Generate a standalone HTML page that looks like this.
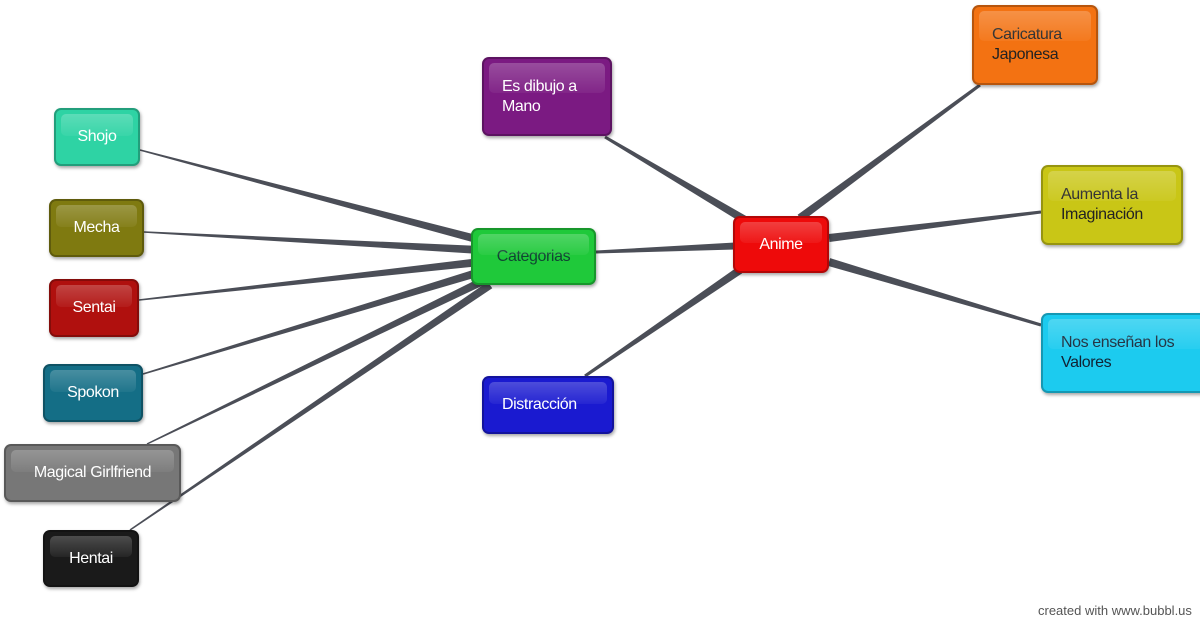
<!DOCTYPE html>
<html><head><meta charset="utf-8"><style>
body{margin:0;width:1200px;height:630px;overflow:hidden;background:#fff;font-family:"Liberation Sans",sans-serif;position:relative}
.n{position:absolute;box-sizing:border-box;border-radius:7px;font-size:16px;letter-spacing:-0.4px;color:#fff;display:flex;align-items:center;padding-left:18px;line-height:20px;box-shadow:1px 2px 3px rgba(0,0,0,.35);border:2px solid rgba(0,0,0,.25)}
.n::before{content:"";position:absolute;left:5px;right:5px;top:4px;height:40%;border-radius:5px;background:linear-gradient(rgba(255,255,255,.22),rgba(255,255,255,.05))}
.c{justify-content:center;padding-left:0}
svg{position:absolute;left:0;top:0}
.foot{position:absolute;left:1038px;top:603px;font-size:13px;color:#555}
</style></head><body>
<svg width="1200" height="630" id="s"></svg>
<div class="n c" style="left:54px;top:108px;width:86px;height:58px;background:#2ed3a4">Shojo</div>
<div class="n c" style="left:49px;top:199px;width:95px;height:58px;background:#7f7a10">Mecha</div>
<div class="n c" style="left:49px;top:279px;width:90px;height:58px;background:#b0100e">Sentai</div>
<div class="n c" style="left:43px;top:364px;width:100px;height:58px;background:#146e86">Spokon</div>
<div class="n c" style="left:4px;top:444px;width:177px;height:58px;background:#777">Magical Girlfriend</div>
<div class="n c" style="left:43px;top:530px;width:96px;height:57px;background:#1a1a1a">Hentai</div>
<div class="n c" style="left:471px;top:228px;width:125px;height:57px;background:#1fc93a;color:#143">Categorias</div>
<div class="n c" style="left:733px;top:216px;width:96px;height:57px;background:#ee0a0a">Anime</div>
<div class="n" style="left:482px;top:57px;width:130px;height:79px;background:#7b1a82">Es dibujo a<br>Mano</div>
<div class="n" style="left:482px;top:376px;width:132px;height:58px;background:#1a1ad0">Distracción</div>
<div class="n" style="left:972px;top:5px;width:126px;height:80px;background:#f37212;color:#222">Caricatura<br>Japonesa</div>
<div class="n" style="left:1041px;top:165px;width:142px;height:80px;background:#c9c616;color:#222">Aumenta la<br>Imaginación</div>
<div class="n" style="left:1041px;top:313px;width:170px;height:80px;background:#1ccbef;color:#123">Nos enseñan los<br>Valores</div>
<div class="foot">created with www.bubbl.us</div>
<script>
var L=[[140,150,480,240,1.5,8],[144,232,480,250,1.5,8],[139,300,480,262,1.5,8],[143,374,480,272,1.5,8],[147,444,485,280,1.5,8],[130,530,490,285,1.5,8],
[596,252,735,246,3,7],[605,137,745,220,3,8],[585,376,740,270,3,8],[980,85,800,218,3,8],[1041,212,829,238,3,8],[1041,325,829,262,3,8]];
var s=document.getElementById('s'),h='';
L.forEach(function(l){var dx=l[2]-l[0],dy=l[3]-l[1],d=Math.hypot(dx,dy),nx=-dy/d,ny=dx/d,a=l[4]/2,b=l[5]/2;
h+='<polygon fill="#4b4e57" points="'+(l[0]+nx*a)+','+(l[1]+ny*a)+' '+(l[2]+nx*b)+','+(l[3]+ny*b)+' '+(l[2]-nx*b)+','+(l[3]-ny*b)+' '+(l[0]-nx*a)+','+(l[1]-ny*a)+'"/>';});
s.innerHTML=h;
</script>
</body></html>
